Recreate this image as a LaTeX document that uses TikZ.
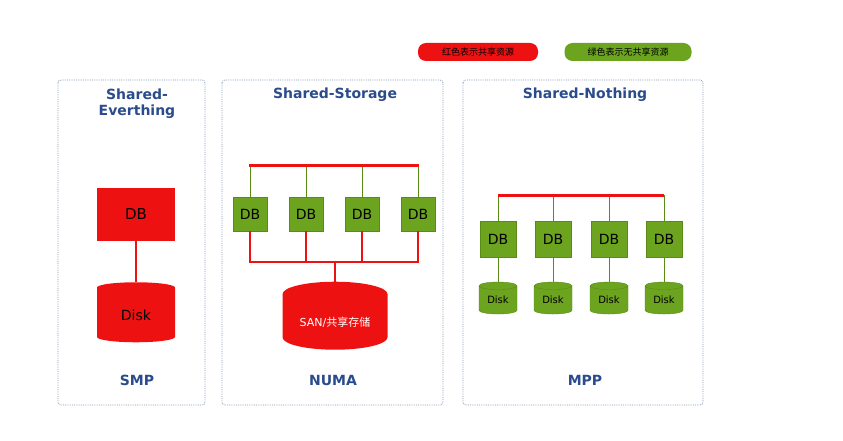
\documentclass[tikz,border=0pt]{standalone}
\usepackage{fontspec}
\setmainfont{DejaVu Sans}
\newfontfamily\cjk{Noto Sans CJK SC}
\usetikzlibrary{shapes.geometric}
\definecolor{gr}{HTML}{6CA31F}
\definecolor{grd}{HTML}{5A8C15}
\definecolor{rd}{HTML}{EE1111}
\definecolor{ttl}{HTML}{2B4C8C}
\definecolor{pan}{HTML}{8A9AB8}
\tikzset{
 panel/.style={draw=pan,densely dotted,rounded corners=3pt,line width=0.8pt},
 title/.style={font=\bfseries\fontsize{14}{16}\selectfont,text=ttl,align=center},
 lab/.style={font=\bfseries\fontsize{14}{16}\selectfont,text=ttl},
 gdb/.style={draw=grd,fill=gr,minimum width=34pt,minimum height=34pt,inner sep=0pt,font=\fontsize{14}{16}\selectfont},
 rdb/.style={fill=rd,minimum width=78pt,minimum height=53pt,inner sep=0pt,font=\fontsize{15}{17}\selectfont},
 cyl/.style={cylinder,shape border rotate=90,shape aspect=0.35,inner sep=0pt},
 bus/.style={rd,line width=3pt},
 gl/.style={grd,line width=1pt},
 rl/.style={rd,line width=2pt},
 pill/.style={rounded corners=8pt,minimum height=18pt,inner sep=0pt,font=\cjk\fontsize{9}{10}\selectfont}
}
\begin{document}
\begin{tikzpicture}[x=1pt,y=-1pt]
\useasboundingbox[fill=white] (0,0) rectangle (843,441);
% legend
\node[pill,fill=rd,minimum width=120pt] (lr) at (478,52) {红色表示共享资源};
\node[pill,fill=gr,minimum width=127pt] (lg) at (628,52) {绿色表示无共享资源};
% panels
\draw[panel] (58,80) rectangle (205,405);
\draw[panel] (222,80) rectangle (443,405);
\draw[panel] (463,80) rectangle (703,405);
\node[title] (t1) at (137,104) {Shared-\\Everthing};
\node[title] (t2) at (335,95) {Shared-Storage};
\node[title] (t3) at (585,95) {Shared-Nothing};
\node[lab] (l1) at (137,380) {SMP};
\node[lab] (l2) at (333,380) {NUMA};
\node[lab] (l3) at (585,380) {MPP};
% SMP
\node[rdb] (db0) at (136,214) {DB};
\node[cyl,fill=rd,minimum width=78pt,minimum height=60pt,font=\fontsize{14}{16}\selectfont] (dk0) at (136,315) {\raisebox{-6pt}{Disk}};
\draw[rl] (db0.south) -- (dk0.top);
% NUMA
\coordinate (b1l) at (249,165); \coordinate (b1r) at (419,165);
\coordinate (b2l) at (249,262); \coordinate (b2r) at (419,262);
\coordinate (b2m) at (335,262);
\foreach \i/\x in {1/250,2/306,3/362,4/418}{
  \node[gdb] (n\i) at (\x,214) {DB};
  \coordinate (u\i) at (\x,165);
  \coordinate (v\i) at (\x,262);
  \draw[gl] (u\i) -- (n\i.north);
  \draw[rl] (n\i.south) -- (v\i);
}
\draw[bus] (b1l) -- (b1r);
\draw[rl] (b2l) -- (b2r);
\node[cyl,fill=rd,minimum width=105pt,minimum height=68pt] (san) at (335,322) {\raisebox{-8pt}{\color{white}\fontsize{11}{13}\selectfont SAN/{\cjk 共享存储}}};
\draw[rl] (b2m) -- (san.top);
% MPP
\foreach \i/\x in {1/498,2/553,3/609,4/664}{
  \node[gdb,minimum width=36pt,minimum height=36pt] (m\i) at (\x,239) {DB};
  \coordinate (w\i) at (\x,195);
  \draw[gl] (w\i) -- (m\i.north);
  \node[cyl,draw=grd,fill=gr,minimum width=38pt,minimum height=32pt,font=\fontsize{10}{12}\selectfont] (d\i) at (\x,300) {\raisebox{-4pt}{Disk}};
  \draw[gl] (m\i.south) -- (d\i.top);
}
\draw[bus] (w1) -- (w4);
\end{tikzpicture}
\end{document}
